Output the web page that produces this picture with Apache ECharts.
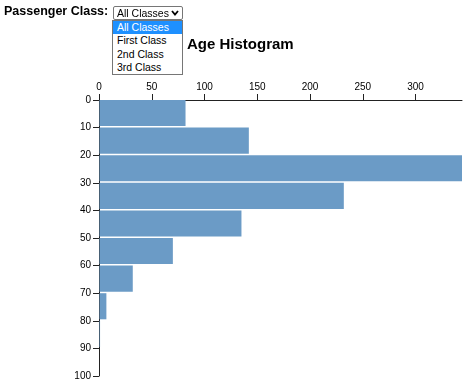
<!DOCTYPE html>
<html>
<head>
<meta charset="utf-8">
<script src="https://cdn.jsdelivr.net/npm/echarts@6/dist/echarts.min.js"></script>
<style>
  html, body { margin: 0; padding: 0; background: #fff; }
  body { width: 474px; height: 387px; position: relative; overflow: hidden; font-family: Arial, "Liberation Sans", sans-serif; }
  #chart { position: absolute; left: 0; top: 0; width: 474px; height: 387px; }
  .lbl { position: absolute; left: 4px; top: 4px; font-weight: bold; font-size: 12.5px; color: #000; white-space: nowrap; }
  .sel { position: absolute; left: 113px; top: 6px; width: 68px; height: 12px; border: 1px solid #767676; border-radius: 2px; background: #fff; font-size: 10.5px; line-height: 12px; color: #000; box-sizing: content-box; }
  .sel span { position: absolute; left: 3px; top: 0; white-space: nowrap; }
  .sel svg { position: absolute; right: 3px; top: 3px; }
  .list { position: absolute; left: 112px; top: 20px; width: 69px; height: 53px; border: 1px solid #767676; background: #fff; font-size: 10.5px; color: #000; z-index: 5; }
  .list div { height: 13.3px; line-height: 13.3px; padding-left: 4px; white-space: nowrap; }
  .list div.on { background: #1e90ff; color: #fff; }
</style>
</head>
<body>
<div id="chart"></div>
<div class="lbl">Passenger Class:</div>
<div class="sel"><span>All Classes</span><svg width="8" height="6" viewBox="0 0 8 6"><polyline points="1,1 4,4.5 7,1" fill="none" stroke="#000" stroke-width="1.8"/></svg></div>
<div class="list" id="list"></div>
<script>
const classOptions = ["All Classes", "First Class", "2nd Class", "3rd Class"];
const binStarts = [0, 10, 20, 30, 40, 50, 60, 70, 80, 90];
const binEnds = [10, 20, 30, 40, 50, 60, 70, 80, 90, 100];
const counts = [82, 142, 344, 232, 135, 70, 32, 7, 1, 0];
const titleText = "Age Histogram";

const list = document.getElementById('list');
classOptions.forEach((c, i) => {
  const d = document.createElement('div');
  d.textContent = c;
  if (i === 0) d.className = 'on';
  list.appendChild(d);
});

const data = binStarts.map((s, i) => [s, binEnds[i], counts[i]]);
const chart = echarts.init(document.getElementById('chart'), null, { renderer: 'canvas' });
const axisFont = { fontSize: 10, color: '#000', fontFamily: 'Arial, "Liberation Sans", sans-serif' };
chart.setOption({
  animation: false,
  grid: { left: 99, right: 12, top: 100, bottom: 11, containLabel: false },
  graphic: [{
    type: 'text', left: 187, top: 37,
    style: { text: titleText, fontSize: 15, fontWeight: 'bold', fill: '#000', fontFamily: 'Arial, "Liberation Sans", sans-serif' }
  }],
  xAxis: {
    type: 'value', position: 'top', min: 0, max: Math.max(...counts), interval: 50,
    axisLine: { show: true, lineStyle: { color: '#222', width: 1 } },
    axisTick: { show: true, length: 6, inside: false, lineStyle: { color: '#222' } },
    axisLabel: Object.assign({ margin: 8, showMaxLabel: false }, axisFont),
    splitLine: { show: false }
  },
  yAxis: {
    type: 'value', inverse: true, min: 0, max: 100, interval: 10,
    axisLine: { show: true, lineStyle: { color: '#222', width: 1 } },
    axisTick: { show: true, length: 6, inside: false, lineStyle: { color: '#222' } },
    axisLabel: Object.assign({ margin: 8 }, axisFont),
    splitLine: { show: false }
  },
  series: [{
    type: 'custom',
    data: data,
    encode: { x: 2, y: [0, 1] },
    renderItem: function (params, api) {
      const s = api.value(0), e = api.value(1), v = api.value(2);
      const p0 = api.coord([0, s]);
      const p1 = api.coord([v, e]);
      return {
        type: 'rect',
        shape: { x: p0[0] + 0.5, y: p0[1], width: Math.max(p1[0] - p0[0] - 0.5, 0), height: p1[1] - p0[1] - 1.5 },
        style: { fill: '#6b9bc6' }
      };
    }
  }]
});
</script>
</body>
</html>
